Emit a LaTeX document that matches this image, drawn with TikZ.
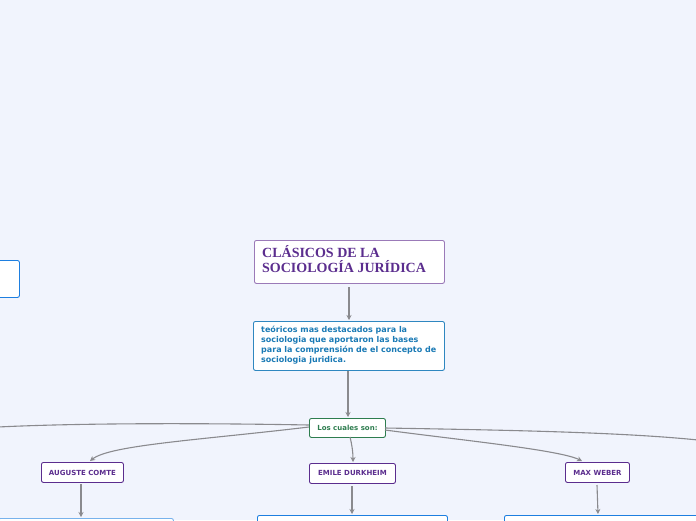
\documentclass[tikz,border=0pt]{standalone}
\usepackage{fontspec}
\setsansfont{DejaVu Sans}
\newfontfamily\titlefont{Liberation Serif}
\usetikzlibrary{arrows.meta}
\definecolor{bg}{HTML}{F1F4FD}
\definecolor{pur}{HTML}{5B2D8E}
\definecolor{purb}{HTML}{9B7AB8}
\definecolor{blu}{HTML}{1A7AB5}
\definecolor{blub}{HTML}{2F87C0}
\definecolor{grn}{HTML}{2E7D4F}
\definecolor{brightb}{HTML}{1E7FE0}
\definecolor{ln}{HTML}{8A8A8E}
\begin{document}
\begin{tikzpicture}[x=1pt,y=-1pt,
 box/.style={draw,fill=white,rounded corners=2pt,line width=0.9pt,inner sep=0pt,anchor=north west},
 lab/.style={font=\sffamily\bfseries\fontsize{7}{7}\selectfont},
 arr/.style={draw=ln,line width=1.1pt,-{Stealth[length=5pt,width=5pt]}},
 ln2/.style={draw=ln,line width=1.1pt}]
\fill[bg] (0,0) rectangle (696,520);
\useasboundingbox (0,0) rectangle (696,520);
\node[box,draw=purb,minimum width=190pt,minimum height=43pt] (t) at (254,240) {};
\node[anchor=north west,text=pur,font=\titlefont\bfseries\fontsize{14}{15.5}\selectfont,align=left,inner sep=0pt] (tt) at (262,245) {CLÁSICOS DE LA\\SOCIOLOGÍA JURÍDICA};
\node[box,draw=blub,minimum width=191pt,minimum height=49pt] (d) at (253,321) {};
\node[anchor=north west,text=blu,font=\sffamily\bfseries\fontsize{8}{9.8}\selectfont,align=left,inner sep=0pt] (dt) at (261,326) {teóricos mas destacados para la\\sociologia que aportaron las bases\\para la comprensión de el concepto de\\sociologia juridica.};
\node[box,draw=grn,minimum width=76pt,minimum height=19pt] (l) at (309,418) {};
\node[text=grn,lab] (lt) at (l.center) {Los cuales son:};
\node[box,draw=pur,minimum width=82pt,minimum height=20pt] (a) at (41,462) {};
\node[text=pur,lab] at (a.center) {AUGUSTE COMTE};
\node[box,draw=pur,minimum width=86pt,minimum height=20pt] (e) at (309,463) {};
\node[text=pur,lab] at (e.center) {EMILE DURKHEIM};
\node[box,draw=pur,minimum width=64pt,minimum height=20pt] (m) at (565,462) {};
\node[text=pur,lab] at (m.center) {MAX WEBER};
\node[box,draw=brightb,minimum width=30pt,minimum height=37pt] (lb) at (-11,260) {};
\node[box,draw=brightb!60,minimum width=175pt,minimum height=20pt] (ab) at (-2,518) {};
\node[box,draw=brightb,minimum width=190pt,minimum height=20pt] (eb) at (257,515) {};
\node[box,draw=brightb,minimum width=195pt,minimum height=20pt] (mb) at (504,515) {};
\coordinate (L) at (-2,427);
\coordinate (R) at (698,440);
\draw[arr] (349,287) -- (349,320);
\draw[arr] (348,371) -- (348,417);
\draw[ln2] (309,425) .. controls (200,423) and (80,423) .. (L);
\draw[ln2] (385,428) .. controls (500,430) and (620,432) .. (R);
\draw[arr] (309,427) .. controls (200,440) and (110,445) .. (90,461);
\draw[arr] (350,437) .. controls (352,445) and (353,452) .. (353,462);
\draw[arr] (385,430) .. controls (460,440) and (560,450) .. (582,461);
\draw[arr] (81,484) -- (81,517);
\draw[arr] (352,486) -- (352,514);
\draw[arr] (597,485) -- (598,514);
\end{tikzpicture}
\end{document}
